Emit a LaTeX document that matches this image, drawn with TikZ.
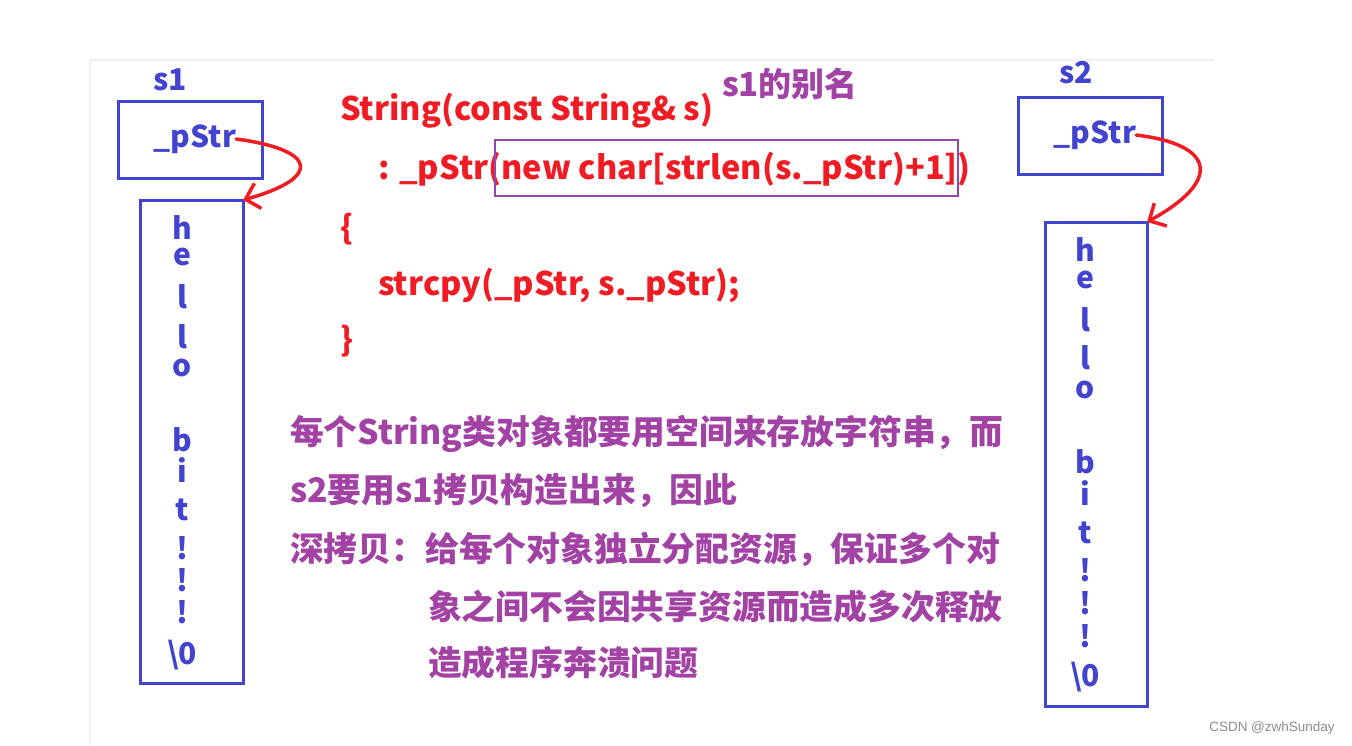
\documentclass[tikz,border=0pt]{standalone}
\usepackage{fontspec}
\newfontfamily\cjk{Noto Sans CJK SC}
\newfontfamily\wmfont{Liberation Sans}
\usetikzlibrary{arrows.meta}
\definecolor{blueC}{RGB}{66,68,208}
\definecolor{redC}{RGB}{240,28,36}
\definecolor{purpC}{RGB}{162,66,164}
\definecolor{purpL}{RGB}{150,70,170}
\begin{document}
\begin{tikzpicture}[x=1pt,y=-1pt,
  every node/.style={inner sep=0pt, outer sep=0pt},
  bluebox/.style={draw=blueC, line width=3pt},
  bluetxt/.style={text=blueC, font=\cjk\bfseries\fontsize{30}{36}\selectfont},
  codetxt/.style={text=redC, font=\cjk\bfseries\fontsize{32.5}{38}\selectfont, anchor=west},
  notetxt/.style={text=purpC, font=\cjk\bfseries\fontsize{33.8}{40}\selectfont, anchor=west},
  ptr/.style={draw=redC, line width=3.5pt, line cap=round, -{Straight Barb[length=13pt,width=26pt]}}]
\useasboundingbox (0,0) rectangle (1352,745);
\fill[white] (0,0) rectangle (1352,745);
\draw[black!6, line width=2pt] (90,745) -- (90,60) -- (1215,60);

% left object s1
\node[bluetxt] (s1lbl) at (170,80) {s1};
\node[bluebox, minimum width=144pt, minimum height=77pt] (s1box) at (190,139.5) {};
\node[bluetxt] (p1) at (195,139) {\_pStr};
\node[bluebox, minimum width=103pt, minimum height=483pt] (h1box) at (191.5,441.5) {};
\foreach \c/\y [count=\i] in {h/228,e/257,l/297,l/337,o/368,b/440,i/470,t/510,!/548,!/580,!/612,{\textbackslash0}/655}
  \node[bluetxt] (a\i) at (182,\y) {\c};
\draw[ptr] (p1.east) .. controls (318,150) and (322,178) .. (h1box.north east);

% right object s2
\node[bluetxt] (s2lbl) at (1076,73) {s2};
\node[bluebox, minimum width=144pt, minimum height=77pt] (s2box) at (1090,135.5) {};
\node[bluetxt] (p2) at (1095,135) {\_pStr};
\node[bluebox, minimum width=102pt, minimum height=484pt] (h2box) at (1096,464) {};
\foreach \c/\y [count=\i] in {h/250,e/280,l/320,l/358,o/390,b/462,i/493,t/533,!/570,!/603,!/636,{\textbackslash0}/677}
  \node[bluetxt] (b\i) at (1085,\y) {\c};
\draw[ptr] (p2.east) .. controls (1218,145) and (1220,182) .. (h2box.north east);

% code
\node[codetxt] (c1) at (340,111) {String(const String\& s)};
\node[codetxt] (c2) at (378,169) {: \_pStr(new char[strlen(s.\_pStr)+1])};
\node[codetxt] (c3) at (340,229) {\{};
\node[codetxt] (c4) at (378,286) {strcpy(\_pStr, s.\_pStr);};
\node[codetxt] (c5) at (340,341) {\}};
\node[draw=purpL, line width=2.5pt, minimum width=463pt, minimum height=56pt] (hl) at (726.5,168) {};
\node[text=purpC, font=\cjk\bfseries\fontsize{33}{38}\selectfont] (alias) at (790,84) {s1的别名};

% notes
\node[notetxt] (n1) at (290,434) {每个String类对象都要用空间来存放字符串，而};
\node[notetxt] (n2) at (290,491) {s2要用s1拷贝构造出来，因此};
\node[notetxt] (n3) at (290,549) {深拷贝：给每个对象独立分配资源，保证多个对};
\node[notetxt] (n4) at (428,607) {象之间不会因共享资源而造成多次释放};
\node[notetxt] (n5) at (428,663) {造成程序奔溃问题};

\node[text=black!45, font=\wmfont\fontsize{13.5}{16}\selectfont] (wm) at (1272,728) {CSDN @zwhSunday};
\end{tikzpicture}
\end{document}
